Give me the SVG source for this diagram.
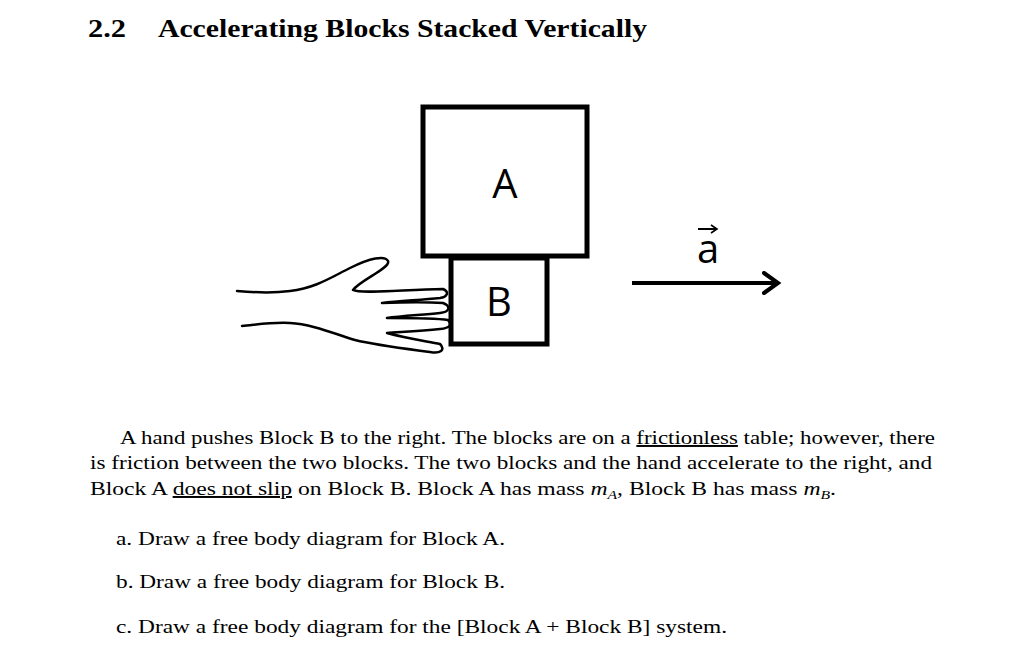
<svg xmlns="http://www.w3.org/2000/svg" width="1024" height="659" viewBox="0 0 1024 659">
<style>
.t{font-family:"Liberation Serif",serif;font-size:19.5px;fill:#000}
.h{font-family:"Liberation Serif",serif;font-size:25px;font-weight:bold;fill:#000}
.lbl{font-family:"Open Sans","Liberation Sans",sans-serif;font-size:40px;fill:#000}
.blk{fill:#fff;stroke:#000;stroke-width:5}
.ln{fill:none;stroke:#000;stroke-width:2.5;stroke-linecap:round;stroke-linejoin:round}
</style>
<defs>
<marker id="ah" markerWidth="24" markerHeight="24" refX="20" refY="12" orient="auto" markerUnits="userSpaceOnUse" viewBox="0 0 24 24"><path d="M6,2 L20,12 L6,22" fill="none" stroke="#000" stroke-width="4" stroke-linecap="round"/></marker>
<marker id="sh" markerWidth="10" markerHeight="10" refX="8" refY="5" orient="auto" markerUnits="userSpaceOnUse" viewBox="0 0 10 10"><path d="M2,1 L8,5 L2,9" fill="none" stroke="#000" stroke-width="1.6"/></marker>
</defs>
<rect width="1024" height="659" fill="#fff"/>
<text class="h" x="88" y="37" textLength="38" lengthAdjust="spacingAndGlyphs">2.2</text>
<text class="h" x="158" y="37" textLength="489" lengthAdjust="spacingAndGlyphs">Accelerating Blocks Stacked Vertically</text>
<g id="hand">
<path class="ln" d="M237,291 C260,293 275,293 290,291 C315,288 330,278 350,268 C370,258 385,255 388,261 C391,268 360,280 353,290 C360,294 400,290 443,289 C450,292 447,297 440,298 C420,300 400,301 382,303 C405,302 430,302 443,303 C451,306 450,312 440,313 C420,315 400,316 387,318 C410,318 435,318 448,320 C452,324 451,328 440,329 C420,331 400,332 387,333 C405,338 425,341 440,344 C446,350 440,354 430,352 C400,348 375,345 355,340 C330,332 310,324 290,323 C270,322 255,325 242,326"/>
</g>
<g id="blockA"><rect class="blk" x="423" y="107" width="164" height="149"/><text class="lbl" x="505" y="198" text-anchor="middle">A</text></g>
<g id="blockB"><rect class="blk" x="451" y="258" width="96" height="86"/><text class="lbl" x="499" y="316" text-anchor="middle">B</text></g>
<g id="accel">
<text class="lbl" x="708" y="263" text-anchor="middle" font-size="38">a</text>
<line x1="698" y1="229" x2="717" y2="229" stroke="#000" stroke-width="2" marker-end="url(#sh)"/>
</g>
<g id="connectors">
<line x1="632" y1="283" x2="778" y2="283" stroke="#000" stroke-width="4" marker-end="url(#ah)"/>
</g>
<text class="t" x="120" y="444" textLength="815" lengthAdjust="spacingAndGlyphs">A hand pushes Block B to the right. The blocks are on a <tspan text-decoration="underline">frictionless</tspan> table; however, there</text>
<text class="t" x="90" y="469" textLength="842" lengthAdjust="spacingAndGlyphs">is friction between the two blocks. The two blocks and the hand accelerate to the right, and</text>
<text class="t" x="90" y="495" textLength="746" lengthAdjust="spacingAndGlyphs">Block A <tspan text-decoration="underline">does not slip</tspan> on Block B. Block A has mass <tspan font-style="italic">m</tspan><tspan font-style="italic" font-size="13" dy="4">A</tspan><tspan dy="-4">, Block B has mass </tspan><tspan font-style="italic">m</tspan><tspan font-style="italic" font-size="13" dy="4">B</tspan><tspan dy="-4">.</tspan></text>
<text class="t" x="116" y="545" textLength="389" lengthAdjust="spacingAndGlyphs">a. Draw a free body diagram for Block A.</text>
<text class="t" x="116" y="588" textLength="389" lengthAdjust="spacingAndGlyphs">b. Draw a free body diagram for Block B.</text>
<text class="t" x="116" y="633" textLength="611" lengthAdjust="spacingAndGlyphs">c. Draw a free body diagram for the [Block A + Block B] system.</text>
</svg>
